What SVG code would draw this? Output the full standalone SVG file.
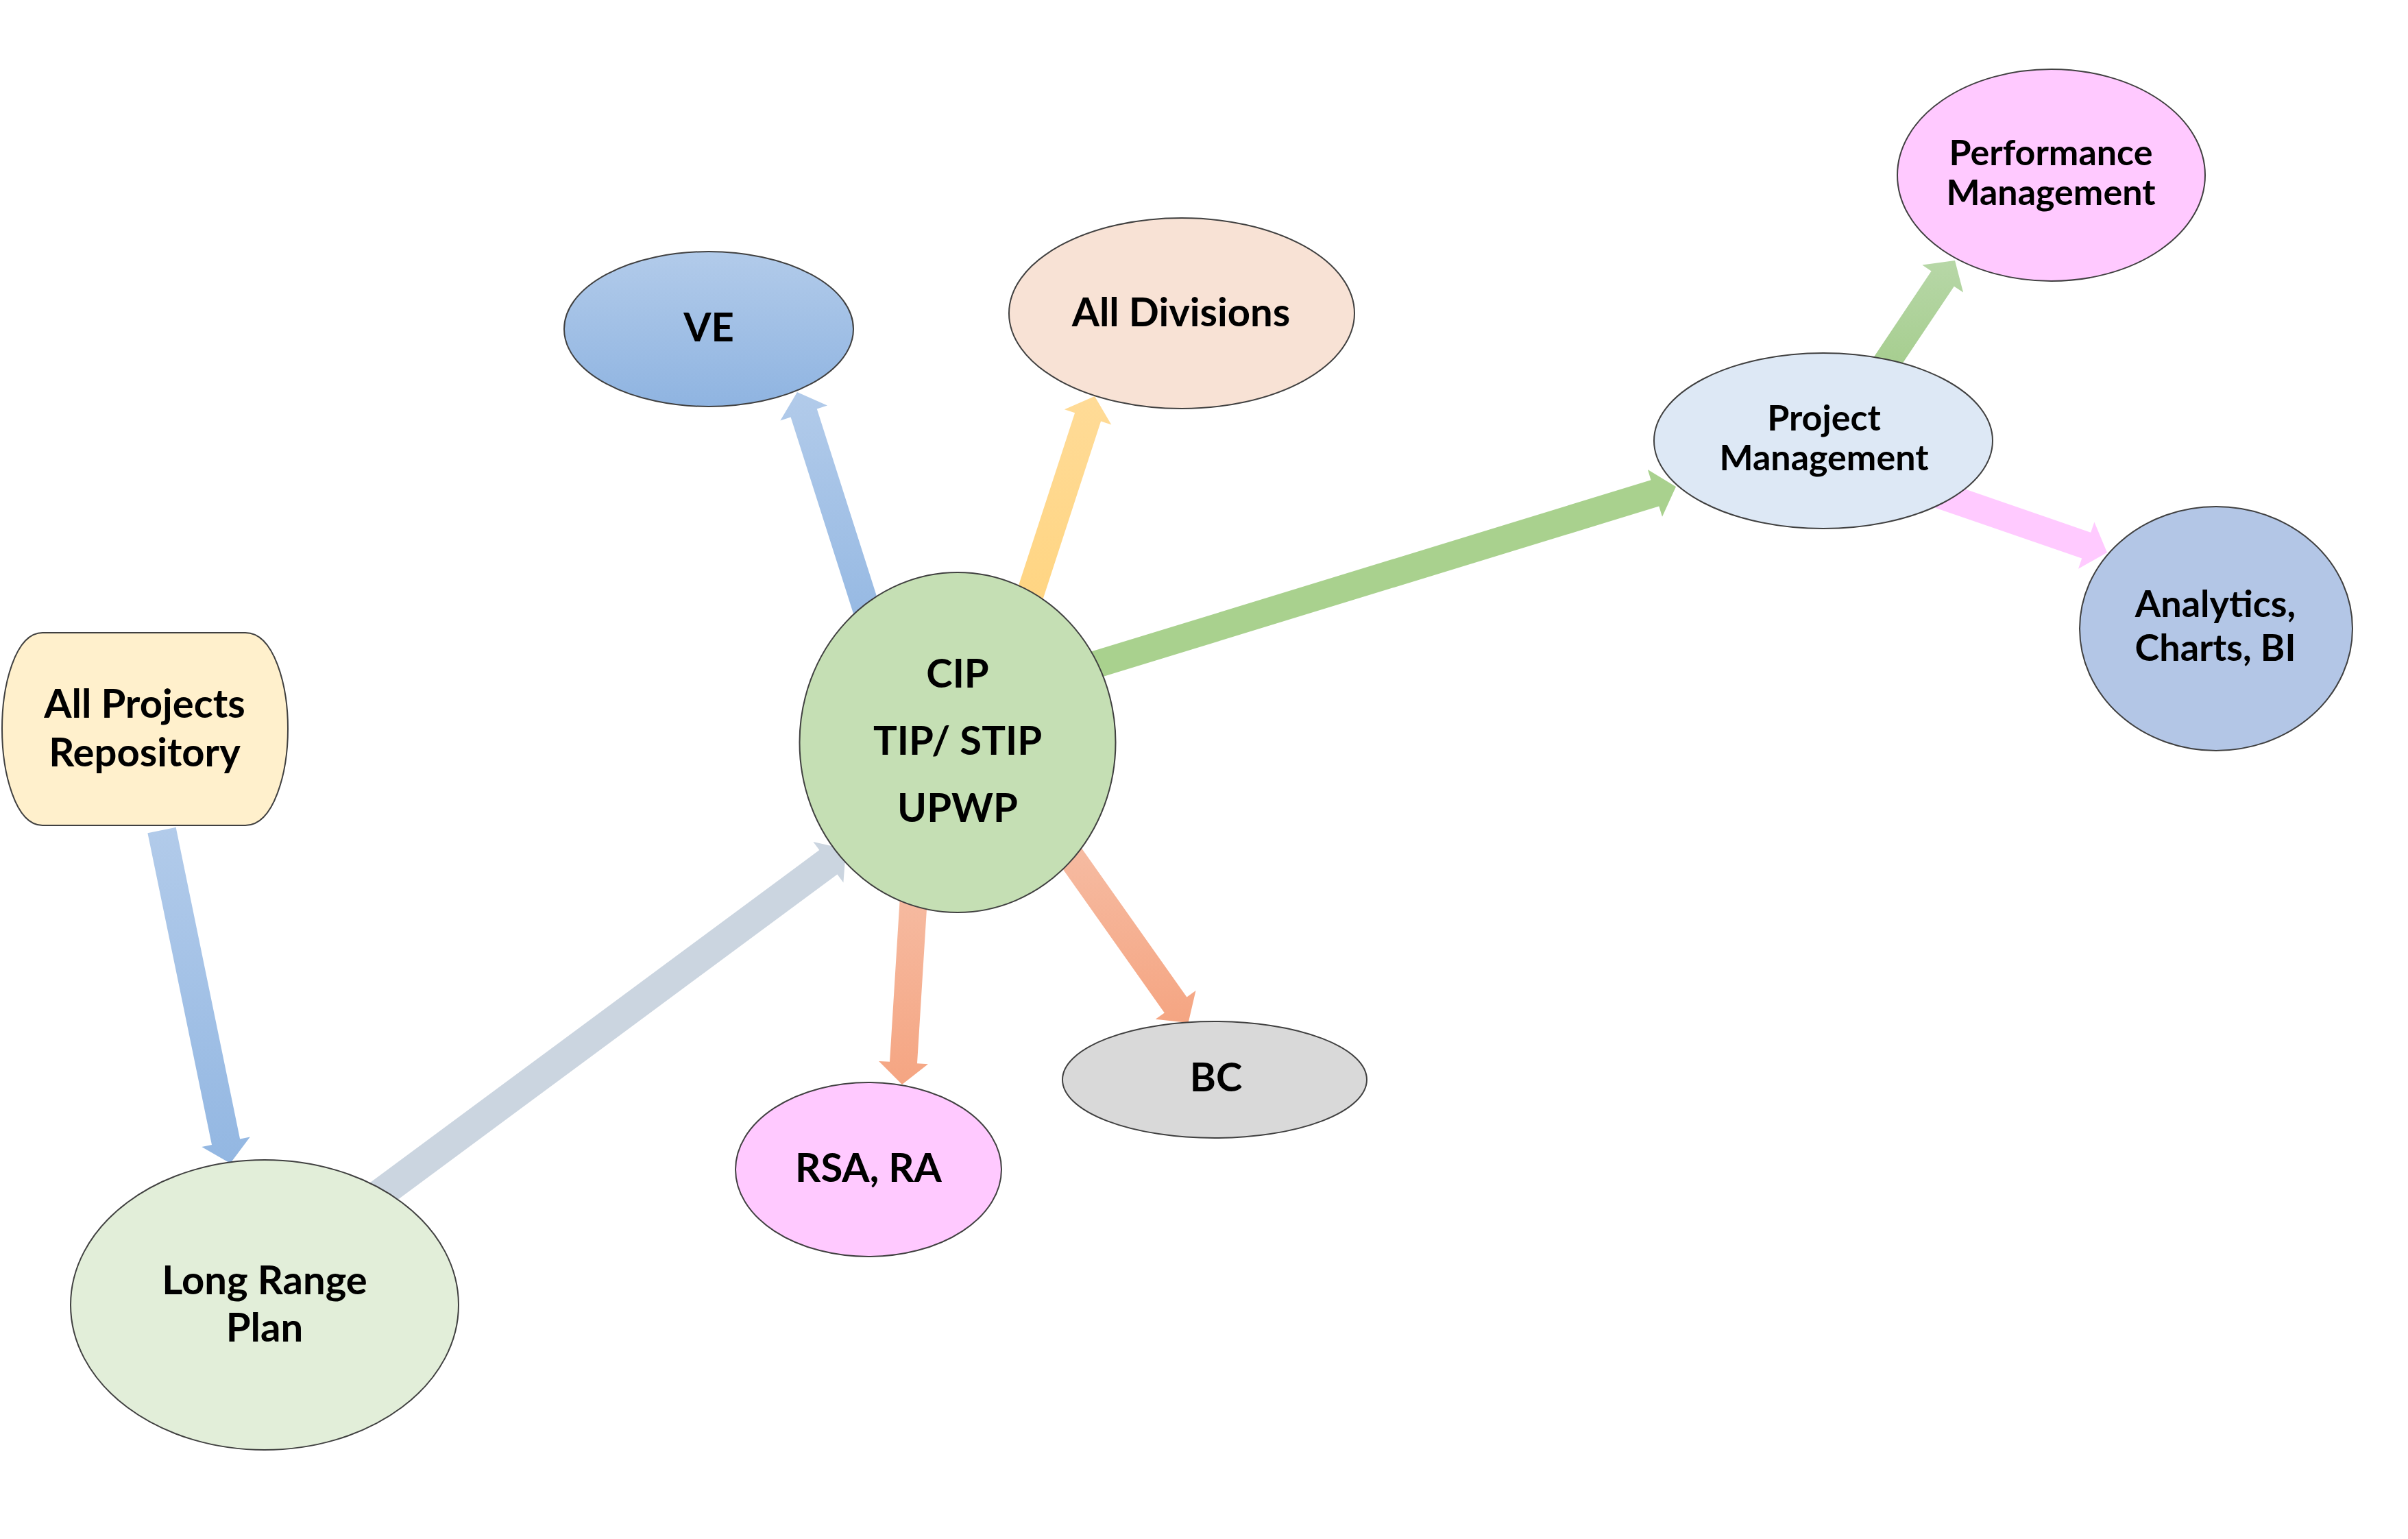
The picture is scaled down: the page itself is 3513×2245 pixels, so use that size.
<svg xmlns="http://www.w3.org/2000/svg" width="3513" height="2245" viewBox="0 0 3513 2245">
<style>
  .node { stroke: #404040; stroke-width: 2; }
  .lbl { font-family: Lato, "Liberation Sans", sans-serif; font-weight: bold; fill: #000; text-anchor: middle; }
  .big { font-size: 58px; }
  .mid { font-size: 54px; }
  .sm { font-size: 52px; }
</style>
<defs>
  <linearGradient id="gVE" x1="0" y1="0" x2="0" y2="1"><stop offset="0" stop-color="#B2CBEA"/><stop offset="1" stop-color="#8FB4E1"/></linearGradient>
  <linearGradient id="aBlue" x1="0" y1="0" x2="0" y2="1"><stop offset="0" stop-color="#B2CBEA"/><stop offset="1" stop-color="#93B7E2"/></linearGradient>
  <linearGradient id="aYellow" x1="0" y1="0" x2="0" y2="1"><stop offset="0" stop-color="#FFDB97"/><stop offset="1" stop-color="#FFD47F"/></linearGradient>
  <linearGradient id="aSalmon" x1="0" y1="0" x2="0" y2="1"><stop offset="0" stop-color="#F6BEA6"/><stop offset="1" stop-color="#F5A582"/></linearGradient>
  <linearGradient id="aGreen2" x1="0" y1="0" x2="0" y2="1"><stop offset="0" stop-color="#B7D7A7"/><stop offset="1" stop-color="#A1CB88"/></linearGradient>
</defs>
<rect width="3513" height="2245" fill="#FFFFFF"/>
<g id="connectors">
  <polygon fill="url(#aBlue)" points="1299.1,932.8 1191.8,596.4 1207.0,591.6 1163,572 1138.4,613.4 1153.6,608.6 1260.9,945.0"/>
  <polygon fill="url(#aYellow)" points="1504.5,926.2 1606.1,614.6 1621.3,619.6 1597,578 1552.9,597.2 1568.1,602.2 1466.5,913.8"/>
  <polygon fill="#A9D18E" points="1565.9,1000.3 2420.3,738.5 2425.0,753.8 2445,710 2403.9,685.0 2408.5,700.3 1554.1,962.1"/>
  <polygon fill="#CBD5E0" points="483.1,1822.0 1221.5,1275.5 1230.4,1287.6 1234.1,1238.8 1186.4,1228.1 1195.3,1240.1 456.9,1786.6"/>
  <polygon fill="url(#aBlue)" points="215.4,1215.2 309.0,1669.9 294.3,1672.9 336,1697 364.8,1658.4 350.1,1661.4 256.6,1206.8"/>
  <polygon fill="url(#aSalmon)" points="1316.0,1258.8 1298.0,1548.8 1282.1,1547.9 1316,1582 1353.9,1552.3 1338.0,1551.3 1356.0,1261.2"/>
  <polygon fill="url(#aSalmon)" points="1521.1,1226.1 1698.8,1477.4 1685.7,1486.7 1733.6,1492 1744.5,1445.1 1731.4,1454.4 1553.7,1203.1"/>
  <polygon fill="url(#aGreen2)" points="2740.7,582.2 2850.8,417.7 2864.1,426.6 2852,380 2804.3,386.6 2817.6,395.5 2707.5,560.0"/>
  <polygon fill="#FFCAFF" points="2783.7,727.1 3037.2,814.5 3032.0,829.7 3074,806 3055.4,761.5 3050.2,776.7 2796.7,689.3"/>
</g>
<g id="node-all-projects">
  <path class="node" fill="#FFF0CC" d="M62,923 L358,923 C400,923 420,1000 420,1063 C420,1126 400,1204 358,1204 L62,1204 C22,1204 3,1126 3,1063 C3,1000 22,923 62,923 Z"/>
  <text class="lbl big" x="211" y="1047">All Projects</text>
  <text class="lbl big" x="211" y="1118">Repository</text>
</g>
<g id="node-cip">
  <ellipse class="node" fill="#C5DFB4" cx="1397" cy="1083" rx="230.5" ry="248"/>
  <text class="lbl big" x="1397" y="1003">CIP</text>
  <text class="lbl big" x="1397" y="1101">TIP/ STIP</text>
  <text class="lbl big" x="1397" y="1199">UPWP</text>
</g>
<g id="node-ve">
  <ellipse class="node" fill="url(#gVE)" cx="1034" cy="480" rx="211" ry="113"/>
  <text class="lbl big" x="1034" y="498">VE</text>
</g>
<g id="node-all-divisions">
  <ellipse class="node" fill="#F8E2D5" cx="1724" cy="457" rx="252" ry="139"/>
  <text class="lbl big" x="1723" y="476">All Divisions</text>
</g>
<g id="node-performance">
  <ellipse class="node" fill="#FFC9FF" cx="2992.5" cy="255.5" rx="224.5" ry="154.5"/>
  <text class="lbl sm" x="2992" y="241">Performance</text>
  <text class="lbl sm" x="2992" y="299">Management</text>
</g>
<g id="node-project-management">
  <ellipse class="node" fill="#DDE8F5" cx="2660" cy="643" rx="247" ry="128"/>
  <text class="lbl sm" x="2661" y="628">Project</text>
  <text class="lbl sm" x="2661" y="686">Management</text>
</g>
<g id="node-analytics">
  <ellipse class="node" fill="#B3C6E6" cx="3233" cy="917" rx="199" ry="178"/>
  <text class="lbl mid" x="3232" y="900">Analytics,</text>
  <text class="lbl mid" x="3232" y="964">Charts, BI</text>
</g>
<g id="node-bc">
  <ellipse class="node" fill="#D9D9D9" cx="1772" cy="1575" rx="222" ry="85"/>
  <text class="lbl big" x="1774" y="1592">BC</text>
</g>
<g id="node-rsa">
  <ellipse class="node" fill="#FFC9FF" cx="1267" cy="1706" rx="194" ry="127"/>
  <text class="lbl big" x="1267" y="1724">RSA, RA</text>
</g>
<g id="node-long-range">
  <ellipse class="node" fill="#E2EED9" cx="386" cy="1903.5" rx="283" ry="211.5"/>
  <text class="lbl big" x="386" y="1888">Long Range</text>
  <text class="lbl big" x="386" y="1957">Plan</text>
</g>
</svg>
